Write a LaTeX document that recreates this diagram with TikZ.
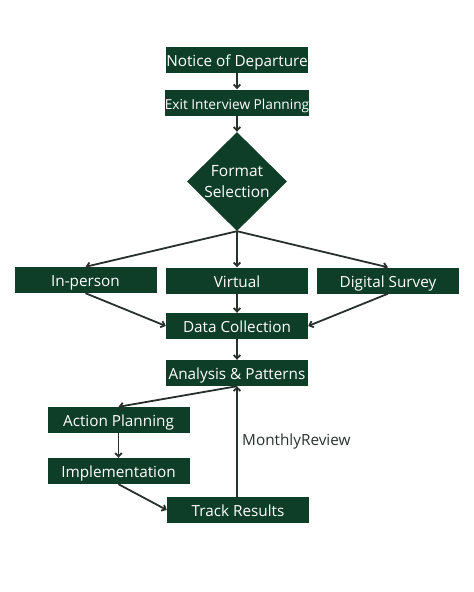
\documentclass[tikz,border=0pt]{standalone}
\usepackage{fontspec}
\setmainfont{Open Sans}
\usetikzlibrary{shapes.geometric,arrows.meta}
\definecolor{pine}{RGB}{14,62,40}
\definecolor{inkgray}{RGB}{40,48,44}

\begin{document}
\begin{tikzpicture}[x=1pt,y=-1pt,
    box/.style={fill=pine,text=white,minimum width=142pt,minimum height=26pt,inner sep=0pt,text height=13pt,text depth=0pt,font=\fontsize{15.3}{17}\selectfont},
    choice/.style={diamond,fill=pine,text=white,minimum width=100pt,minimum height=99pt,inner sep=0pt,align=center,font=\fontsize{15.5}{21}\selectfont},
    flow/.style={-{Straight Barb[length=3.5pt,width=6.5pt]},draw=inkgray,line width=1.8pt}]
      \useasboundingbox (0,0) rectangle (474,592);
      \draw
        (237, 60) node[box] (notice){Notice of Departure}
        (237, 102.5) node[box,font=\fontsize{13.7}{15}\selectfont] (plan){Exit Interview Planning}
        (237, 181.5) node[choice] (format){Format\\Selection}
        (85.5, 280) node[box] (person){In-person}
        (237, 280.5) node[box] (virtual){Virtual}
        (388, 280.5) node[box] (survey){Digital Survey}
        (237, 326) node[box] (data){Data Collection}
        (237, 373) node[box] (analysis){Analysis \& Patterns}
        (118.5, 420) node[box] (action){Action Planning}
        (118.5, 471) node[box] (impl){Implementation}
        (238, 510) node[box] (track){Track Results};
      \begin{scope}[flow]
        \draw (notice) to (plan);
        \draw (plan) to (format);
        \draw (format.south) to (person.north);
        \draw (format.south) to (virtual.north);
        \draw (format.south) to (survey.north);
        \draw (person.south) to (data.west);
        \draw (virtual) to (data);
        \draw (survey.south) to (data.east);
        \draw (data) to (analysis);
        \draw (analysis.south) to (action.north);
        \draw (action) to (impl);
        \draw (impl.south) to (track.west);
        \draw (track.north -| analysis.south) to node[right,text=inkgray,font=\fontsize{15.3}{17}\selectfont,xshift=1pt] {MonthlyReview} (analysis.south);
      \end{scope}
    \end{tikzpicture}
\end{document}
